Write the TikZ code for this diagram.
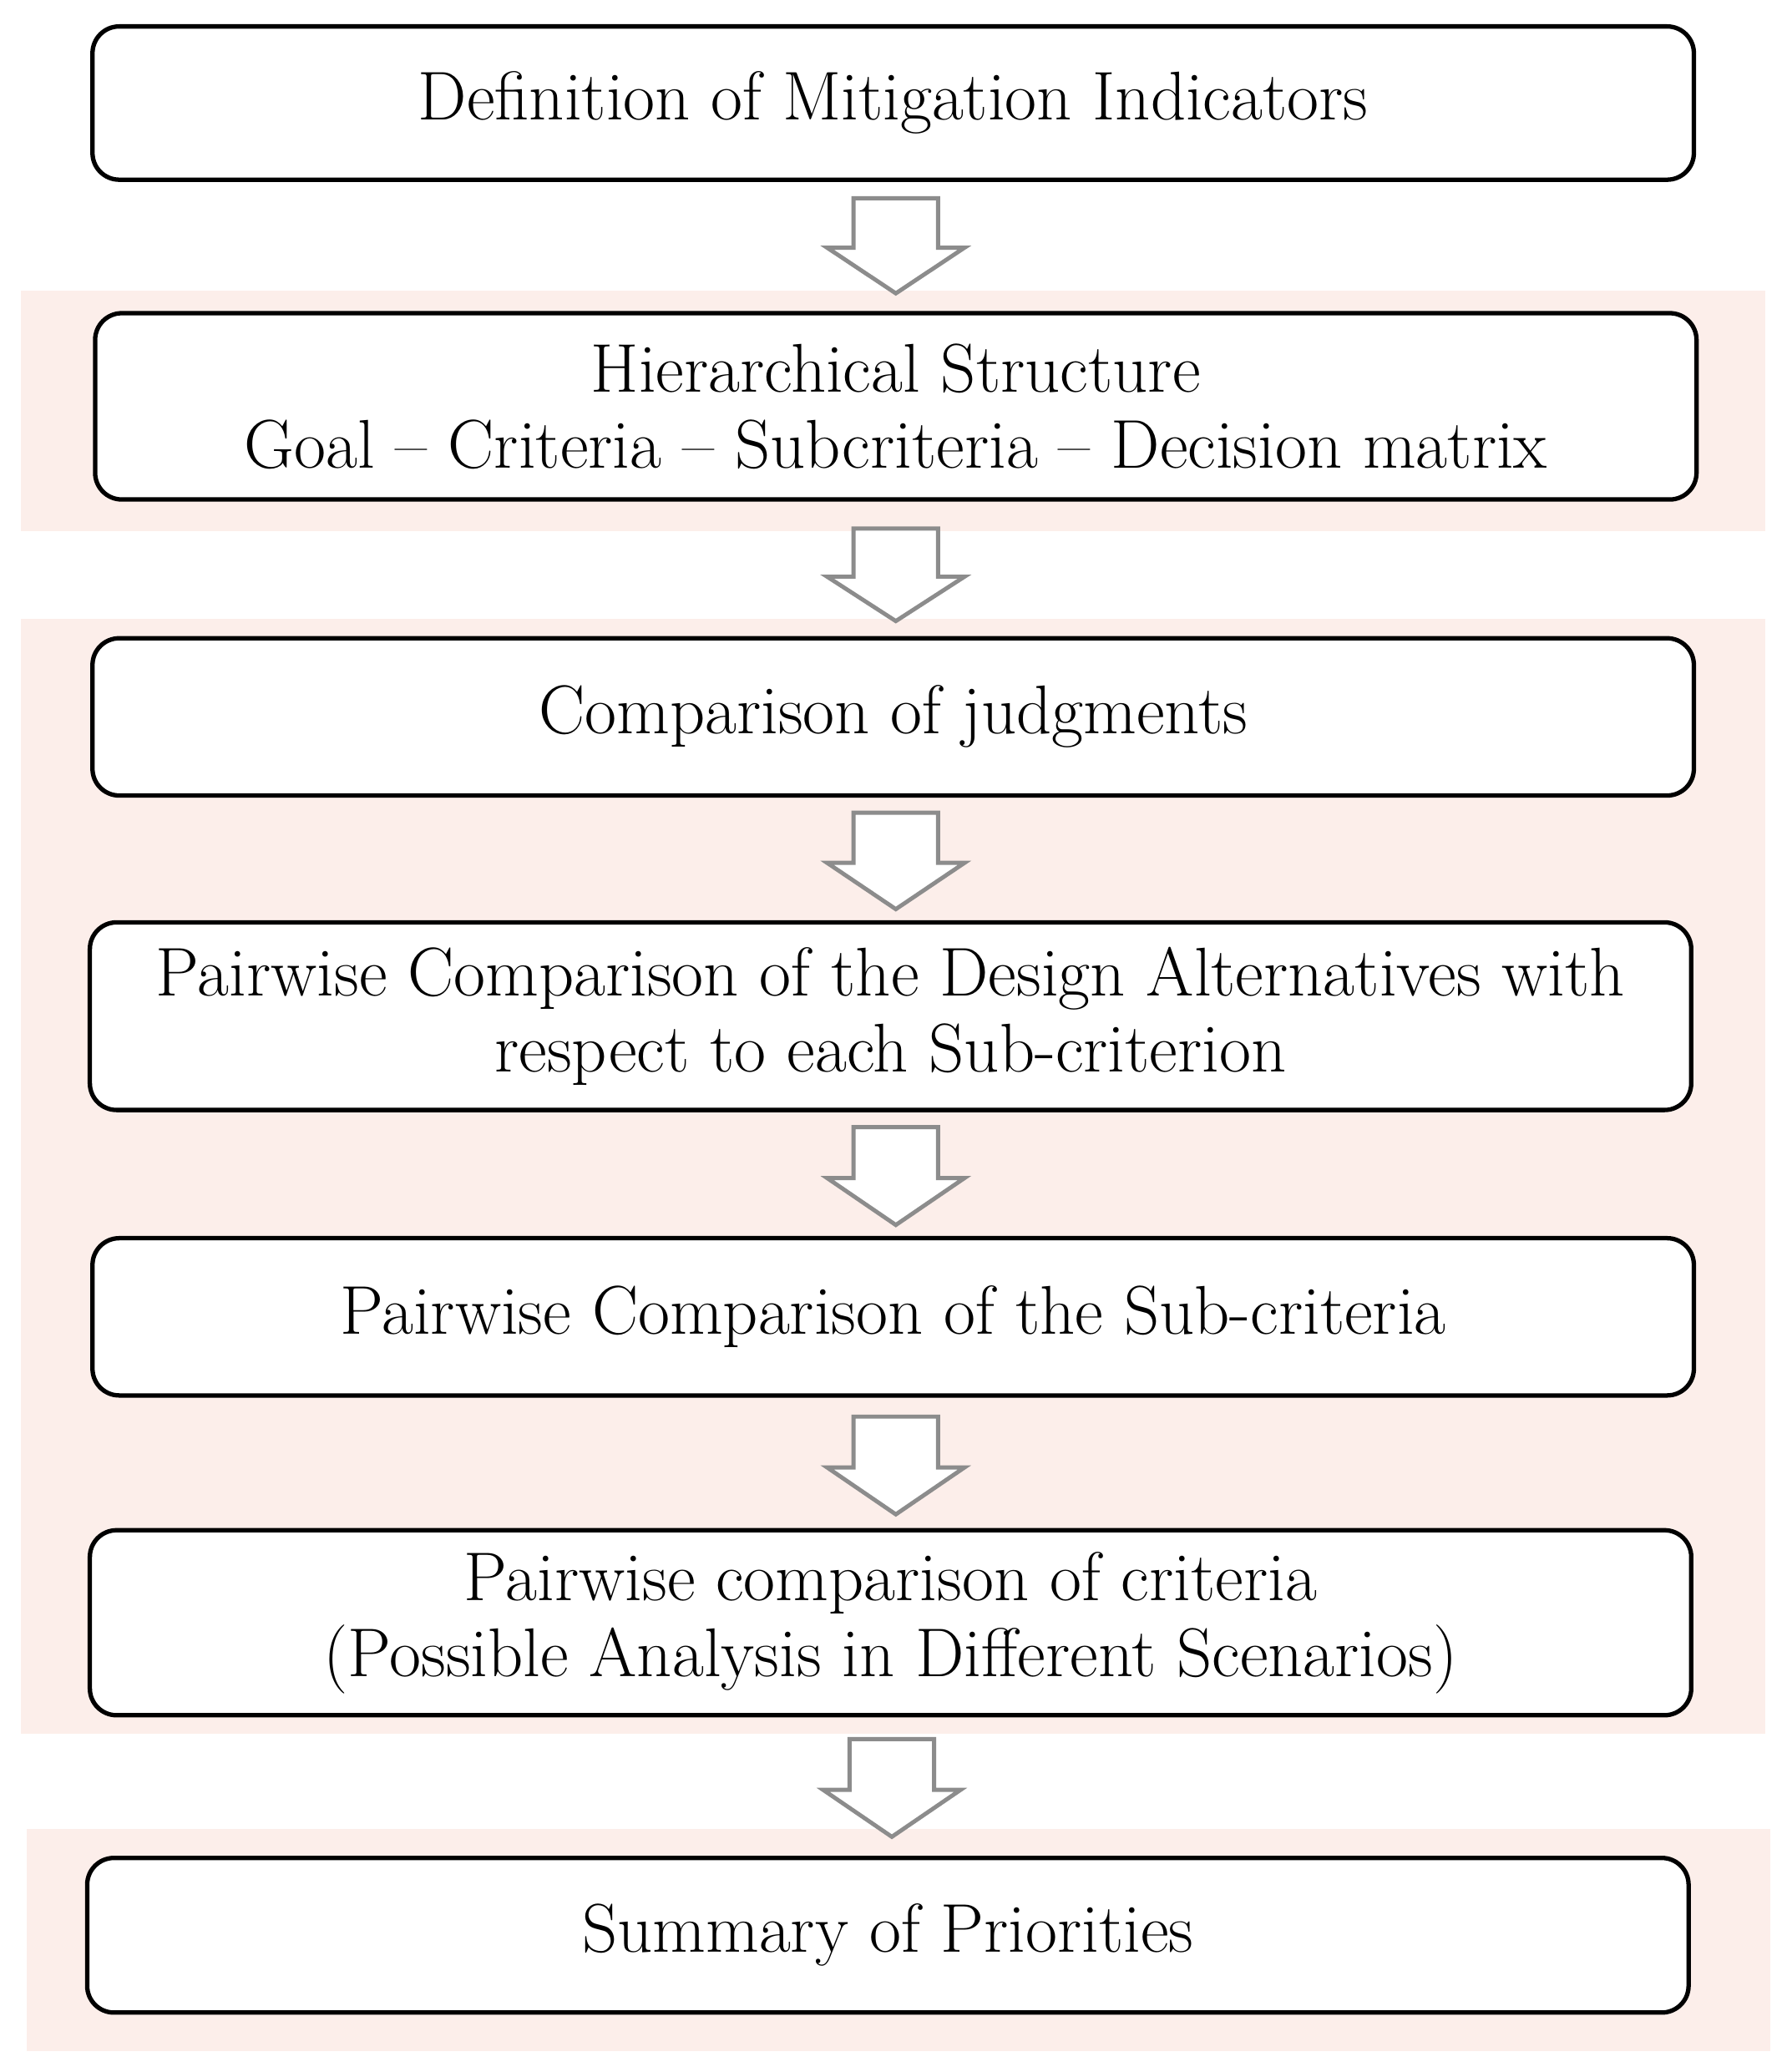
\documentclass[tikz,border=0pt]{standalone}
\usetikzlibrary{calc}
\definecolor{band}{HTML}{FCEEEA}
\definecolor{arrgray}{HTML}{8C8C8C}
\tikzset{
  stepbox/.style={draw=black,line width=1.5pt,rounded corners=0.32cm,fill=white,inner sep=0pt},
  boxtxt/.style={font=\fontsize{23.5}{26}\selectfont,align=center},
  blockarr/.style={draw=arrgray,line width=1.4pt,fill=white,line join=miter}
}
\newcommand{\mkbox}[6]{% name x1 y1 x2 y2 text
  \draw[stepbox] (#2,#3) rectangle (#4,#5);
  \node[boxtxt] (#1) at ({(#2+#4)/2},{(#3+#5)/2}) {#6};
}
\newcommand{\mkarrow}[3]{% cx top bottom
  \draw[blockarr] ({#1-32},#2) -- ({#1+32},#2) -- ({#1+32},{#2+0.52*(#3-#2)}) -- ({#1+52},{#2+0.52*(#3-#2)}) -- (#1,#3) -- ({#1-52},{#2+0.52*(#3-#2)}) -- ({#1-32},{#2+0.52*(#3-#2)}) -- cycle;
}
\begin{document}
\begin{tikzpicture}[x=0.01582cm,y=-0.01582cm]
\useasboundingbox[fill=white] (0,0) rectangle (1356,1568);
\fill[band] (16,220) rectangle (1336,402);
\fill[band] (16,468) rectangle (1336,1312);
\fill[band] (20,1384) rectangle (1340,1552);
\mkbox{b1}{70}{20}{1282}{136}{Definition of Mitigation Indicators}
\mkarrow{678}{150}{222}
\mkbox{b2}{72}{237}{1284}{378}{Hierarchical Structure\\Goal -- Criteria -- Subcriteria -- Decision matrix}
\mkarrow{678}{400}{470}
\mkbox{b3}{70}{483}{1282}{602}{Comparison of judgments}
\mkarrow{678}{615}{688}
\mkbox{b4}{68}{698}{1280}{840}{Pairwise Comparison of the Design Alternatives with\\respect to each Sub-criterion}
\mkarrow{678}{853}{927}
\mkbox{b5}{70}{937}{1282}{1056}{Pairwise Comparison of the Sub-criteria}
\mkarrow{678}{1072}{1146}
\mkbox{b6}{68}{1158}{1280}{1298}{Pairwise comparison of criteria\\(Possible Analysis in Different Scenarios)}
\mkarrow{675}{1316}{1390}
\mkbox{b7}{66}{1406}{1278}{1523}{Summary of Priorities}
\end{tikzpicture}
\end{document}
